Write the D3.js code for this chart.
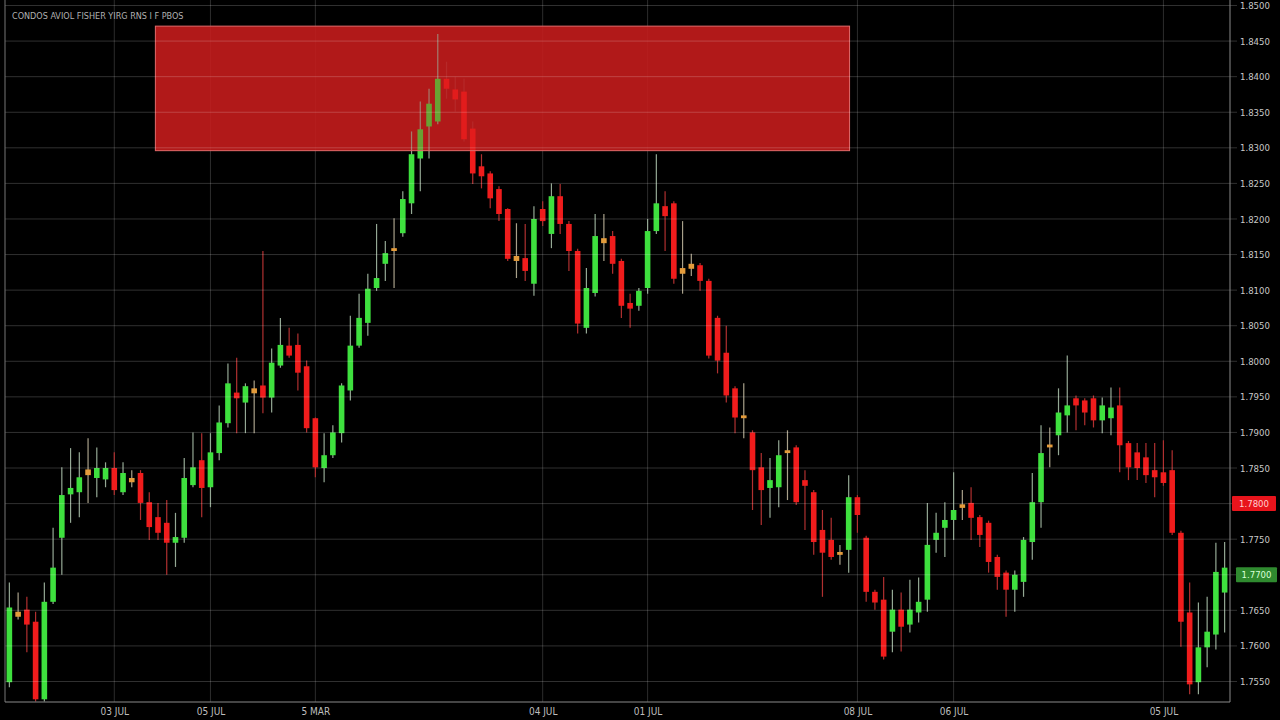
<!DOCTYPE html>
<html>
<head>
<meta charset="utf-8">
<script src="https://cdn.jsdelivr.net/npm/d3@7"></script>
<style>
  body { margin: 0; background: #000; }
  svg { display: block; }
</style>
</head>
<body>
<svg id="chart" width="1280" height="720"></svg>
<script>
const width = 1280
const height = 720
const plot = { left: 5, right: 1229, top: 0, bottom: 702 }

const title = "CONDOS AVIOL FISHER YIRG RNS I F PBOS"

// OHLC, one entry per candle
const openP = [1.7549,1.7641,1.7651,1.7634,1.7525,1.7662,1.7752,1.7813,1.7816,1.7840,
  1.7836,1.7834,1.7850,1.7816,1.7836,1.7843,1.7802,1.7781,1.7773,1.7745,
  1.7752,1.7826,1.7861,1.7823,1.7871,1.7913,1.7956,1.7942,1.7962,1.7966,
  1.7949,1.7994,1.8022,1.8023,1.7993,1.7920,1.7850,1.7868,1.7899,1.7959,
  1.8022,1.8054,1.8103,1.8137,1.8155,1.8180,1.8222,1.8285,1.8330,1.8337,
  1.8397,1.8382,1.8379,1.8327,1.8274,1.8264,1.8242,1.8214,1.8148,1.8145,
  1.8109,1.8214,1.8179,1.8232,1.8193,1.8155,1.8047,1.8096,1.8173,1.8176,
  1.8141,1.8082,1.8078,1.8103,1.8183,1.8218,1.8222,1.8123,1.8130,1.8135,
  1.8113,1.8061,1.8012,1.7962,1.7924,1.7900,1.7851,1.7822,1.7823,1.7871,
  1.7879,1.7833,1.7816,1.7763,1.7749,1.7732,1.7735,1.7809,1.7752,1.7676,
  1.7665,1.7620,1.7651,1.7630,1.7647,1.7665,1.7749,1.7766,1.7777,1.7794,
  1.7801,1.7781,1.7773,1.7725,1.7703,1.7679,1.7690,1.7746,1.7802,1.7879,
  1.7896,1.7924,1.7948,1.7945,1.7948,1.7917,1.7920,1.7938,1.7885,1.7872,
  1.7865,1.7847,1.7844,1.7847,1.7759,1.7647,1.7549,1.7598,1.7616,1.7675]
const highP = [1.7689,1.7675,1.7669,1.7648,1.7689,1.7766,1.7851,1.7878,1.7872,1.7892,
  1.7879,1.7858,1.7872,1.7858,1.7847,1.7847,1.7816,1.7801,1.7805,1.7787,
  1.7864,1.7900,1.7899,1.7899,1.7938,1.7997,1.8005,1.7969,1.7973,1.8155,
  1.8018,1.8061,1.8047,1.8039,1.8001,1.7921,1.7899,1.7910,1.7969,1.8064,
  1.8095,1.8123,1.8193,1.8169,1.8201,1.8239,1.8323,1.8365,1.8383,1.8460,
  1.8421,1.8400,1.8397,1.8337,1.8291,1.8267,1.8246,1.8215,1.8194,1.8193,
  1.8218,1.8225,1.8250,1.8249,1.8197,1.8158,1.8131,1.8207,1.8207,1.8183,
  1.8144,1.8095,1.8103,1.8200,1.8291,1.8239,1.8225,1.8197,1.8151,1.8138,
  1.8116,1.8064,1.8050,1.7965,1.7969,1.7903,1.7871,1.7864,1.7889,1.7903,
  1.7882,1.7847,1.7819,1.7791,1.7780,1.7742,1.7840,1.7812,1.7755,1.7679,
  1.7697,1.7679,1.7675,1.7693,1.7696,1.7801,1.7787,1.7802,1.7844,1.7819,
  1.7823,1.7784,1.7776,1.7728,1.7706,1.7706,1.7753,1.7843,1.7910,1.7907,
  1.7962,1.8008,1.7952,1.7948,1.7952,1.7949,1.7963,1.7963,1.7888,1.7885,
  1.7885,1.7885,1.7889,1.7875,1.7762,1.7689,1.7661,1.7669,1.7745,1.7746]
const lowP = [1.7542,1.7637,1.7591,1.7522,1.7522,1.7659,1.7700,1.7773,1.7781,1.7801,
  1.7809,1.7823,1.7812,1.7812,1.7823,1.7777,1.7749,1.7749,1.7700,1.7711,
  1.7745,1.7823,1.7781,1.7795,1.7861,1.7907,1.7899,1.7899,1.7899,1.7927,
  1.7928,1.7991,1.8005,1.7959,1.7900,1.7837,1.7830,1.7864,1.7886,1.7945,
  1.8019,1.8036,1.8099,1.8113,1.8103,1.8175,1.8207,1.8239,1.8285,1.8333,
  1.8369,1.8351,1.8309,1.8249,1.8243,1.8215,1.8197,1.8141,1.8117,1.8113,
  1.8092,1.8190,1.8159,1.8179,1.8127,1.8039,1.8039,1.8091,1.8141,1.8123,
  1.8061,1.8047,1.8071,1.8095,1.8179,1.8155,1.8109,1.8095,1.8120,1.8099,
  1.8004,1.7983,1.7942,1.7899,1.7892,1.7791,1.7770,1.7780,1.7795,1.7805,
  1.7798,1.7763,1.7728,1.7669,1.7721,1.7714,1.7703,1.7759,1.7662,1.7651,
  1.7581,1.7591,1.7592,1.7619,1.7633,1.7648,1.7731,1.7725,1.7749,1.7777,
  1.7749,1.7739,1.7703,1.7679,1.7641,1.7648,1.7669,1.7721,1.7766,1.7851,
  1.7868,1.7900,1.7903,1.7910,1.7907,1.7899,1.7896,1.7844,1.7833,1.7833,
  1.7829,1.7809,1.7825,1.7756,1.7599,1.7532,1.7532,1.7570,1.7595,1.7619]
const closeP = [1.7654,1.7648,1.7630,1.7525,1.7662,1.7710,1.7812,1.7822,1.7837,1.7848,
  1.7850,1.7850,1.7819,1.7843,1.7830,1.7801,1.7767,1.7759,1.7745,1.7753,
  1.7836,1.7851,1.7822,1.7872,1.7914,1.7969,1.7948,1.7965,1.7955,1.7949,
  1.7998,1.8023,1.8008,1.7984,1.7906,1.7851,1.7868,1.7900,1.7966,1.8022,
  1.8061,1.8102,1.8117,1.8152,1.8159,1.8228,1.8291,1.8326,1.8362,1.8397,
  1.8383,1.8368,1.8312,1.8264,1.8260,1.8229,1.8207,1.8144,1.8141,1.8127,
  1.8200,1.8197,1.8232,1.8193,1.8155,1.8053,1.8103,1.8176,1.8166,1.8137,
  1.8078,1.8074,1.8099,1.8183,1.8222,1.8204,1.8116,1.8131,1.8137,1.8113,
  1.8008,1.8001,1.7952,1.7921,1.7920,1.7847,1.7819,1.7833,1.7868,1.7875,
  1.7802,1.7825,1.7746,1.7731,1.7725,1.7728,1.7809,1.7784,1.7676,1.7661,
  1.7585,1.7651,1.7627,1.7651,1.7662,1.7742,1.7759,1.7777,1.7791,1.7799,
  1.7780,1.7756,1.7718,1.7697,1.7679,1.7700,1.7749,1.7802,1.7871,1.7883,
  1.7928,1.7938,1.7938,1.7928,1.7917,1.7938,1.7935,1.7882,1.7851,1.7850,
  1.7840,1.7837,1.7829,1.7759,1.7634,1.7546,1.7598,1.7620,1.7704,1.7710]

const yTickValues = [1.8500,1.8450,1.8400,1.8350,1.8300,1.8250,1.8200,1.8150,1.8100,1.8050,
  1.8000,1.7950,1.7900,1.7850,1.7800,1.7750,1.7700,1.7650,1.7600,1.7550]
const xLabels = ["03 JUL", "05 JUL", "5 MAR", "04 JUL", "01 JUL", "08 JUL", "06 JUL", "05 JUL"]
const xLabelIndex = [12, 23, 35, 61, 73, 97, 108, 132]
const bidPrice = 1.7800
const askPrice = 1.7700
// supply zone: candle index range and price range
const zoneIndex = [16.7, 96.1]
const zonePrice = [1.8296, 1.8471]

const data = openP.map((o, i) => ({ i, o, h: highP[i], l: lowP[i], c: closeP[i] }))

const svg = d3.select("#chart")
  .attr("viewBox", [0, 0, width, height])

svg.append("rect").attr("width", width).attr("height", height).attr("fill", "#000")

const x = d3.scaleLinear()
  .domain([-0.5, data.length - 0.5])
  .range([plot.left, plot.right])

const y = d3.scaleLinear()
  .domain([1.7550, 1.8500])
  .range([681.5, 5.5])

const step = x(1) - x(0)
const bodyW = step * 0.64

const colorOf = d => Math.abs(d.c - d.o) < 0.0008 ? "#e39b3b" : (d.c >= d.o ? "#3ee03e" : "#f01c1c")
const wickOf = d => Math.abs(d.c - d.o) < 0.0008 ? "#a8a08a" : (d.c >= d.o ? "#94a894" : "#b03030")

// vertical grid
svg.append("g")
  .selectAll("line")
  .data(xLabelIndex)
  .join("line")
  .attr("x1", d => x(d)).attr("x2", d => x(d))
  .attr("y1", 0).attr("y2", plot.bottom)
  .attr("stroke", "#2c2c2c")

const zoneBox = g => g
  .attr("x", x(zoneIndex[0]))
  .attr("width", x(zoneIndex[1]) - x(zoneIndex[0]))
  .attr("y", y(zonePrice[1]))
  .attr("height", y(zonePrice[0]) - y(zonePrice[1]))

// zone box (under the candles)
svg.append("rect")
  .call(zoneBox)
  .attr("fill", "#c41d1d")
  .attr("fill-opacity", 0.86)

// candles
const candles = svg.append("g").attr("class", "candles")
  .selectAll("g")
  .data(data)
  .join("g")

candles.append("line")
  .attr("x1", d => x(d.i)).attr("x2", d => x(d.i))
  .attr("y1", d => y(d.h)).attr("y2", d => y(d.l))
  .attr("stroke", wickOf)
  .attr("stroke-width", 1.2)

candles.append("rect")
  .attr("x", d => x(d.i) - bodyW / 2)
  .attr("width", bodyW)
  .attr("y", d => y(Math.max(d.o, d.c)))
  .attr("height", d => Math.max(2, Math.abs(y(d.o) - y(d.c))))
  .attr("fill", colorOf)

// zone tint over the candles
svg.append("rect")
  .call(zoneBox)
  .attr("fill", "#c41d1d")
  .attr("fill-opacity", 0.32)
  .attr("stroke", "#e06a6a")
  .attr("stroke-width", 1)

// horizontal grid
svg.append("g")
  .selectAll("line")
  .data(yTickValues)
  .join("line")
  .attr("x1", plot.left).attr("x2", plot.right + 8)
  .attr("y1", d => y(d)).attr("y2", d => y(d))
  .attr("stroke", "#fff")
  .attr("stroke-opacity", 0.19)

// frame
svg.append("line").attr("x1", plot.left).attr("x2", plot.left).attr("y1", 0).attr("y2", plot.bottom).attr("stroke", "#777")
svg.append("line").attr("x1", plot.right + 1).attr("x2", plot.right + 1).attr("y1", 0).attr("y2", plot.bottom).attr("stroke", "#8a8a8a")
svg.append("line").attr("x1", plot.left).attr("x2", plot.right + 1).attr("y1", plot.bottom).attr("y2", plot.bottom).attr("stroke", "#8a8a8a")

// price axis
const fmt = d3.format(".4f")
const yAxis = d3.axisRight(y)
  .tickValues(yTickValues.filter(v => v !== bidPrice && v !== askPrice))
  .tickFormat(fmt)
  .tickSize(0)
  .tickPadding(10)

svg.append("g")
  .attr("transform", `translate(${plot.right + 1},0)`)
  .call(yAxis)
  .call(g => g.select(".domain").remove())
  .call(g => g.selectAll("text")
    .attr("fill", "#c8c8c8")
    .attr("font-size", 9.5)
    .attr("font-family", "DejaVu Sans Condensed, Liberation Sans Narrow, sans-serif"))

// price tags
const tags = [
  { v: bidPrice, bg: "#e8141c", fg: "#ffd0d0", x0: plot.right + 3, w: 44 },
  { v: askPrice, bg: "#2f8a2f", fg: "#d8ffd8", x0: plot.right + 7, w: 41 }
]
const tagG = svg.append("g").selectAll("g").data(tags).join("g")
tagG.append("rect")
  .attr("x", d => d.x0).attr("width", d => d.w)
  .attr("y", d => y(d.v) - 7.5).attr("height", 15)
  .attr("rx", 1)
  .attr("fill", d => d.bg)
tagG.append("text")
  .attr("x", d => d.x0 + d.w / 2)
  .attr("y", d => y(d.v) + 3.5)
  .attr("text-anchor", "middle")
  .attr("font-size", 9.5)
  .attr("font-family", "DejaVu Sans Condensed, Liberation Sans Narrow, sans-serif")
  .attr("fill", d => d.fg)
  .text(d => fmt(d.v))

// time axis
const xAxis = d3.axisBottom(x)
  .tickValues(xLabelIndex)
  .tickFormat((d, k) => xLabels[k])
  .tickSize(0)
  .tickPadding(6)

svg.append("g")
  .attr("transform", `translate(0,${plot.bottom})`)
  .call(xAxis)
  .call(g => g.select(".domain").remove())
  .call(g => g.selectAll("text")
    .attr("fill", "#bdbdbd")
    .attr("font-size", 10)
    .attr("font-family", "DejaVu Sans Condensed, Liberation Sans Narrow, sans-serif"))

// title
svg.append("text")
  .attr("x", 12).attr("y", 19)
  .attr("fill", "#b0b0b0")
  .attr("font-size", 9)
  .attr("font-family", "DejaVu Sans Condensed, Liberation Sans Narrow, sans-serif")
  .text(title)
</script>
</body>
</html>
